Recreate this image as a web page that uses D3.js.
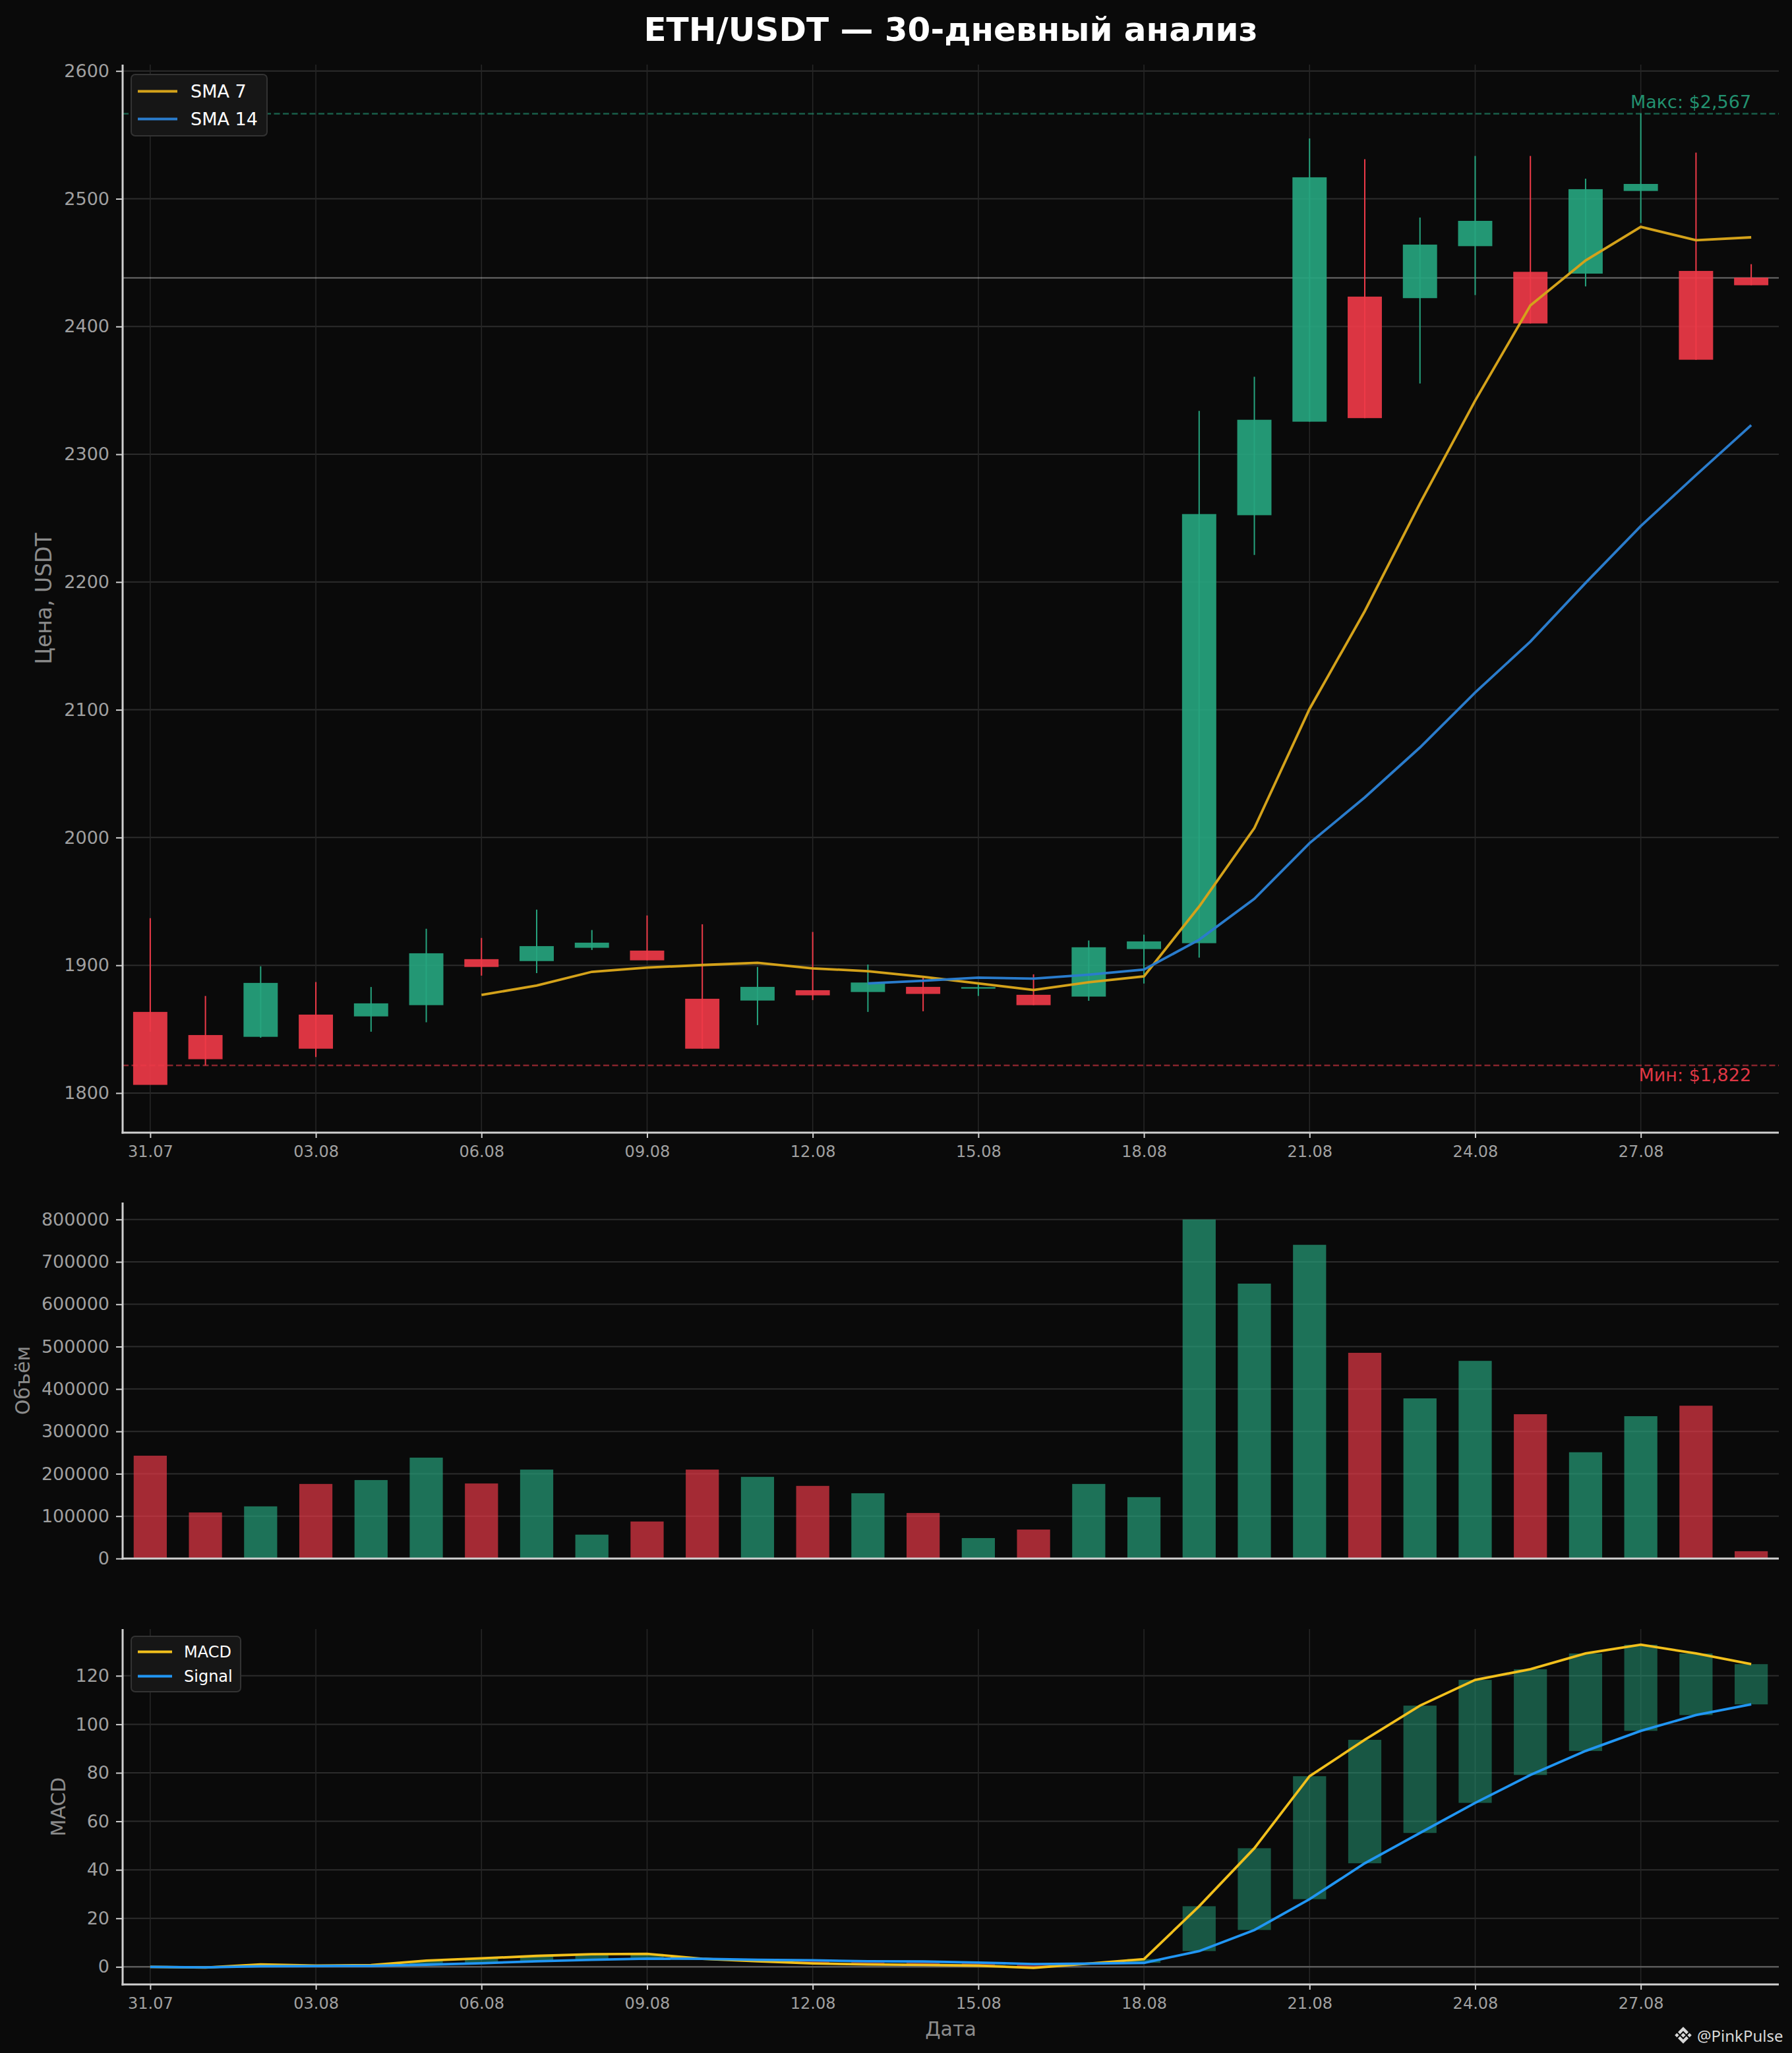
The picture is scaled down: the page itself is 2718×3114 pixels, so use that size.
<!DOCTYPE html>
<html>
<head>
<meta charset="utf-8">
<script src="https://cdn.jsdelivr.net/npm/d3@7"></script>
<style>
  html, body { margin: 0; padding: 0; background: #0a0a0a; }
  svg { display: block; }
</style>
</head>
<body>
<script>
// данные
const dates = ["31.07","01.08","02.08","03.08","04.08","05.08","06.08","07.08","08.08","09.08",
               "10.08","11.08","12.08","13.08","14.08","15.08","16.08","17.08","18.08","19.08",
               "20.08","21.08","22.08","23.08","24.08","25.08","26.08","27.08","28.08","29.08"];

const open  = [1863.5,1845.4,1844.0,1861.4,1860.0,1868.8,1904.8,1903.3,1913.7,1911.5,
               1873.8,1872.4,1880.5,1879.1,1883.1,1881.7,1876.9,1875.5,1912.7,1917.3,
               2252.3,2325.5,2423.4,2422.2,2462.9,2442.8,2441.4,2506.1,2443.5,2438.3];
const high  = [1936.9,1876.0,1899.2,1886.9,1883.0,1928.6,1921.4,1943.6,1927.6,1939.0,
               1932.1,1898.7,1926.1,1900.6,1891.3,1886.7,1892.9,1919.4,1924.0,2334.0,
               2360.6,2547.2,2530.9,2485.3,2533.5,2533.5,2515.7,2566.6,2536.1,2448.8];
const low   = [1848.0,1821.7,1843.3,1828.2,1848.0,1855.4,1891.9,1893.9,1912.0,1903.9,
               1834.7,1853.2,1872.8,1863.5,1864.0,1876.0,1868.8,1872.2,1885.7,1906.0,
               2221.2,2325.5,2328.3,2355.4,2424.6,2402.4,2431.4,2481.0,2374.0,2432.3];
const close = [1806.4,1826.5,1886.2,1834.7,1870.2,1909.4,1898.7,1915.0,1917.7,1903.9,
               1834.7,1883.1,1876.5,1886.5,1877.6,1882.9,1868.8,1914.1,1918.7,2253.2,
               2327.0,2516.8,2328.3,2464.1,2482.7,2402.4,2507.5,2511.6,2374.0,2432.3];

const sma7  = [null,null,null,null,null,null,1876.8,1884.1,1894.9,1898.2,
               1900.2,1901.9,1897.6,1895.4,1891.0,1885.8,1880.7,1886.7,1891.3,1946.0,
               2007.4,2100.7,2177.2,2261.6,2342.0,2416.5,2451.7,2478.0,2467.5,2469.8];
const sma14 = [null,null,null,null,null,null,null,null,null,null,
               null,null,null,1885.8,1887.9,1890.3,1889.6,1892.7,1896.6,1920.0,
               1952.0,1995.6,2031.4,2070.5,2113.5,2153.4,2199.3,2243.8,2283.7,2322.8];

const volume = [242700,108700,123100,176000,185200,238100,177100,209900,56400,87400,
                209900,192700,171400,154100,107500,48300,68400,176000,144900,800000,
                648700,740200,485400,377900,466400,340500,250800,335900,360600,17300];

const macd   = [0,-0.3,1.0,0.55,0.7,2.55,3.5,4.5,5.2,5.35,
                3.3,2.3,1.4,1.0,0.8,0.5,-0.4,1.35,3.2,25.0,
                48.9,78.6,93.6,107.7,118.3,122.7,129.2,132.8,129.2,124.8];
const signal = [0,-0.2,0.25,0.35,0.4,0.9,1.5,2.3,2.9,3.4,
                3.3,2.9,2.7,2.3,2.2,1.75,1.15,1.35,1.65,6.5,
                15.2,27.9,42.7,55.2,67.6,79.1,89.0,97.3,103.8,108.2];

const lastPrice = 2438;
const priceTicks  = [1800,1900,2000,2100,2200,2300,2400,2500,2600];
const volumeTicks = [0,100000,200000,300000,400000,500000,600000,700000,800000];
const macdTicks   = [0,20,40,60,80,100,120];
const dateTicks   = [0,3,6,9,12,15,18,21,24,27];

// цвета
const green = "#26a47e", red = "#ee3a48";
const sma7Color = "#d4a21a", sma14Color = "#2a7ccc";
const macdColor = "#f2c01c", signalColor = "#2196f3";
const gridColor = "#2c2c2c", spineColor = "#d0d0d0", tickText = "#a0a0a0";
const font = "DejaVu Sans, sans-serif";

const W = 2718, H = 3114;
const svg = d3.select("body").append("svg")
    .attr("width", W).attr("height", H)
    .style("background", "#0a0a0a")
    .style("font-family", font);

const x = d3.scaleLinear().domain([-0.5, 29.5]).range([186, 2698]);
const yP = d3.scaleLinear().domain([1769, 2605]).range([1718, 98]);
const yV = d3.scaleLinear().domain([0, 840000]).range([2364, 1824]);
const yM = d3.scaleLinear().domain([-7.25, 139.25]).range([3010, 2471]);

const idx = d3.range(dates.length);
const up = i => close[i] >= open[i];

// сетка панели
function panel(y, ticks, opts) {
  const g = svg.append("g");
  const [yb, yt] = y.range();
  g.selectAll(".hg").data(ticks).enter().append("line")
    .attr("x1", x.range()[0]).attr("x2", x.range()[1])
    .attr("y1", d => y(d)).attr("y2", d => y(d))
    .attr("stroke", gridColor).attr("stroke-width", 2);
  if (opts.vgrid) {
    g.selectAll(".vg").data(dateTicks).enter().append("line")
      .attr("x1", d => x(d)).attr("x2", d => x(d))
      .attr("y1", yt).attr("y2", yb)
      .attr("stroke", "#262626").attr("stroke-width", 1.6);
  }
  return g;
}

// оси и рамка
function axes(y, ticks, opts) {
  const g = svg.append("g");
  const ya = g.append("g").attr("transform", `translate(${x.range()[0]},0)`)
    .call(d3.axisLeft(y).tickValues(ticks).tickSize(10).tickPadding(10).tickSizeOuter(0).tickFormat(d3.format("d")));
  ya.select(".domain").remove();
  ya.selectAll(".tick line").attr("stroke", spineColor).attr("stroke-width", 2);
  ya.selectAll(".tick text").attr("fill", tickText).style("font-size", "27px").style("font-family", font);

  if (opts.xticks) {
    const xa = g.append("g").attr("transform", `translate(0,${y.range()[0]})`)
      .call(d3.axisBottom(x).tickValues(dateTicks).tickSize(8).tickPadding(12).tickSizeOuter(0)
        .tickFormat(d => dates[d]));
    xa.select(".domain").remove();
    xa.selectAll(".tick line").attr("stroke", spineColor).attr("stroke-width", 2);
    xa.selectAll(".tick text").attr("fill", tickText).style("font-size", "24px").style("font-family", font);
  }
  g.append("line").attr("x1", x.range()[0]).attr("x2", x.range()[0])
    .attr("y1", y.range()[1]).attr("y2", y.range()[0] + 1.5)
    .attr("stroke", spineColor).attr("stroke-width", 3);
  g.append("line").attr("x1", x.range()[0] - 1.5).attr("x2", x.range()[1])
    .attr("y1", y.range()[0]).attr("y2", y.range()[0])
    .attr("stroke", spineColor).attr("stroke-width", 3);
}

function legend(x0, y0, w, h, items, fs, rowGap, lineLen, textX) {
  const g = svg.append("g");
  g.append("rect").attr("x", x0).attr("y", y0).attr("width", w).attr("height", h)
    .attr("rx", 6).attr("fill", "#161616").attr("stroke", "#333").attr("stroke-width", 2);
  items.forEach((it, k) => {
    const cy = y0 + h / 2 + (k - (items.length - 1) / 2) * rowGap;
    g.append("line").attr("x1", x0 + 10).attr("x2", x0 + 10 + lineLen).attr("y1", cy).attr("y2", cy)
      .attr("stroke", it.color).attr("stroke-width", 4);
    g.append("text").attr("x", x0 + textX).attr("y", cy).attr("dy", "0.35em")
      .attr("fill", "#ffffff").style("font-size", fs + "px").text(it.label);
  });
}

// ---------- заголовок ----------
svg.append("text").attr("x", (x.range()[0] + x.range()[1]) / 2).attr("y", 62)
  .attr("text-anchor", "middle").attr("fill", "#ffffff")
  .style("font-size", "50px").style("font-weight", "bold")
  .text("ETH/USDT — 30-дневный анализ");

// ---------- цена ----------
panel(yP, priceTicks, { vgrid: true });

const maxP = d3.max(high), minP = d3.min(low);
const fmt = d3.format(",.0f");

// уровни макс / мин / текущая цена
svg.append("line").attr("x1", x.range()[0]).attr("x2", x.range()[1])
  .attr("y1", yP(maxP)).attr("y2", yP(maxP))
  .attr("stroke", green).attr("stroke-opacity", 0.55).attr("stroke-width", 2.5).attr("stroke-dasharray", "9,4.5");
svg.append("line").attr("x1", x.range()[0]).attr("x2", x.range()[1])
  .attr("y1", yP(minP)).attr("y2", yP(minP))
  .attr("stroke", red).attr("stroke-opacity", 0.55).attr("stroke-width", 2.5).attr("stroke-dasharray", "9,4.5");
svg.append("line").attr("x1", x.range()[0]).attr("x2", x.range()[1])
  .attr("y1", yP(lastPrice)).attr("y2", yP(lastPrice))
  .attr("stroke", "#ffffff").attr("stroke-opacity", 0.4).attr("stroke-width", 2);

// свечи: фитили
svg.append("g").selectAll("line").data(idx).enter().append("line")
  .attr("x1", i => x(i)).attr("x2", i => x(i))
  .attr("y1", i => yP(high[i])).attr("y2", i => yP(low[i]))
  .attr("stroke", i => up(i) ? green : red).attr("stroke-width", 2);

// свечи: тела
const bw = x(0.62) - x(0);
svg.append("g").selectAll("rect").data(idx).enter().append("rect")
  .attr("x", i => x(i) - bw / 2).attr("width", bw)
  .attr("y", i => yP(Math.max(open[i], close[i])))
  .attr("height", i => Math.max(2, Math.abs(yP(open[i]) - yP(close[i]))))
  .attr("fill", i => up(i) ? green : red).attr("fill-opacity", 0.92);

// скользящие средние
const lineP = d3.line().defined(d => d[1] != null).x(d => x(d[0])).y(d => yP(d[1]));
svg.append("path").datum(sma7.map((v, i) => [i, v])).attr("d", lineP)
  .attr("fill", "none").attr("stroke", sma7Color).attr("stroke-width", 3.8);
svg.append("path").datum(sma14.map((v, i) => [i, v])).attr("d", lineP)
  .attr("fill", "none").attr("stroke", sma14Color).attr("stroke-width", 3.8);

svg.append("text").attr("x", x(29)).attr("y", yP(maxP) - 8)
  .attr("text-anchor", "end").attr("fill", green).attr("fill-opacity", 0.9)
  .style("font-size", "27px").text("Макс: $" + fmt(maxP));
svg.append("text").attr("x", x(29)).attr("y", yP(minP) + 24)
  .attr("text-anchor", "end").attr("fill", red).attr("fill-opacity", 0.95)
  .style("font-size", "27px").text("Мин: $" + fmt(minP));

axes(yP, priceTicks, { xticks: true });
svg.append("text").attr("transform", `translate(66,${(yP.range()[0] + yP.range()[1]) / 2}) rotate(-90)`)
  .attr("text-anchor", "middle").attr("dy", "0.35em").attr("fill", "#8c8c8c")
  .style("font-size", "33px").text("Цена, USDT");

legend(199, 113, 206, 93, [{ label: "SMA 7", color: sma7Color }, { label: "SMA 14", color: sma14Color }], 27, 42, 60, 90);

// ---------- объём ----------
panel(yV, volumeTicks, { vgrid: false });
const vw = x(0.6) - x(0);
svg.append("g").selectAll("rect").data(idx).enter().append("rect")
  .attr("x", i => x(i) - vw / 2).attr("width", vw)
  .attr("y", i => yV(volume[i])).attr("height", i => yV(0) - yV(volume[i]))
  .attr("fill", i => up(i) ? green : red).attr("fill-opacity", 0.68);
axes(yV, volumeTicks, { xticks: false });
svg.append("text").attr("transform", `translate(34,${(yV.range()[0] + yV.range()[1]) / 2}) rotate(-90)`)
  .attr("text-anchor", "middle").attr("dy", "0.35em").attr("fill", "#8c8c8c")
  .style("font-size", "30px").text("Объём");

// ---------- MACD ----------
panel(yM, macdTicks, { vgrid: true });
svg.append("line").attr("x1", x.range()[0]).attr("x2", x.range()[1])
  .attr("y1", yM(0)).attr("y2", yM(0))
  .attr("stroke", "#5a5a5a").attr("stroke-width", 2.5);

// гистограмма: от сигнальной линии до MACD
svg.append("g").selectAll("rect").data(idx).enter().append("rect")
  .attr("x", i => x(i) - vw / 2).attr("width", vw)
  .attr("y", i => yM(Math.max(macd[i], signal[i])))
  .attr("height", i => Math.abs(yM(macd[i]) - yM(signal[i])))
  .attr("fill", i => macd[i] >= signal[i] ? green : red).attr("fill-opacity", 0.5);

const lineM = d3.line().x(d => x(d[0])).y(d => yM(d[1]));
svg.append("path").datum(macd.map((v, i) => [i, v])).attr("d", lineM)
  .attr("fill", "none").attr("stroke", macdColor).attr("stroke-width", 3.8);
svg.append("path").datum(signal.map((v, i) => [i, v])).attr("d", lineM)
  .attr("fill", "none").attr("stroke", signalColor).attr("stroke-width", 3.8);

axes(yM, macdTicks, { xticks: true });
svg.append("text").attr("transform", `translate(88,${(yM.range()[0] + yM.range()[1]) / 2}) rotate(-90)`)
  .attr("text-anchor", "middle").attr("dy", "0.35em").attr("fill", "#8c8c8c")
  .style("font-size", "30px").text("MACD");
svg.append("text").attr("x", (x.range()[0] + x.range()[1]) / 2).attr("y", 3088)
  .attr("text-anchor", "middle").attr("fill", "#8c8c8c")
  .style("font-size", "30px").text("Дата");

legend(199, 2482, 166, 84, [{ label: "MACD", color: macdColor }, { label: "Signal", color: signalColor }], 24, 37, 52, 80);

// ---------- подпись ----------
const wm = svg.append("g").attr("transform", "translate(2553,3087)").attr("fill", "#d8d8d8");
const s = 4.0;
const dia = (cx, cy, r) => `M${cx},${cy - r}L${cx + r},${cy}L${cx},${cy + r}L${cx - r},${cy}Z`;
wm.append("path").attr("d", dia(0, 0, s * 0.9));
wm.append("path").attr("d", dia(-s * 2.4, 0, s * 0.8));
wm.append("path").attr("d", dia(s * 2.4, 0, s * 0.8));
wm.append("path").attr("d", `M0,${-s * 3.2}L${s * 2},${-s * 1.2}L${s * 1.2},${-s * 0.4}L0,${-s * 1.6}L${-s * 1.2},${-s * 0.4}L${-s * 2},${-s * 1.2}Z`);
wm.append("path").attr("d", `M0,${s * 3.2}L${s * 2},${s * 1.2}L${s * 1.2},${s * 0.4}L0,${s * 1.6}L${-s * 1.2},${s * 0.4}L${-s * 2},${s * 1.2}Z`);
svg.append("text").attr("x", 2574).attr("y", 3097).attr("text-anchor", "start")
  .attr("fill", "#d8d8d8").style("font-size", "24px").style("font-family", "Noto Sans, sans-serif")
  .text("@PinkPulse");
</script>
</body>
</html>
